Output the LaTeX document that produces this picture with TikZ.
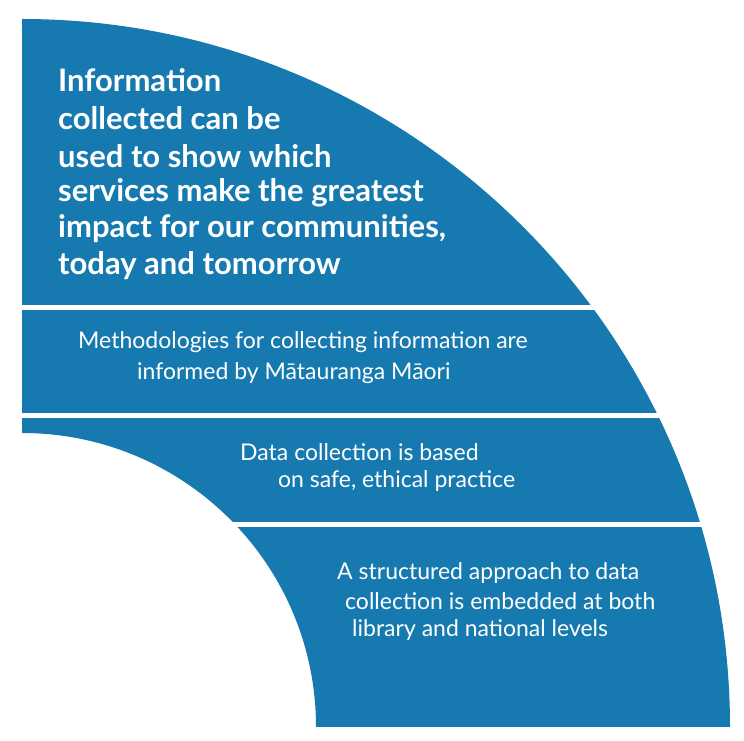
\documentclass[tikz,border=0pt]{standalone}
\usepackage{fontspec}
\setmainfont{Lato}
\begin{document}
\begin{tikzpicture}[x=1pt,y=1pt,
  title/.style={anchor=west,text=white,font=\fontsize{31}{36}\selectfont\bfseries,inner sep=0},
  body/.style={anchor=west,text=white,font=\fontsize{23}{28}\selectfont,inner sep=0}]
\definecolor{band}{RGB}{22,122,176}
\useasboundingbox (0,0) rectangle (744,741);
\fill[band] (22,722) arc[start angle=90,end angle=0,radius=708] -- (316,14)
  arc[start angle=0,end angle=90,radius=294] -- cycle;
\foreach \yy in {433,325,216} \draw[white,line width=5pt] (0,\yy) -- (744,\yy);
\node[title] (t1) at (58,661) {Information};
\node[title] (t2) at (58,623) {collected can be};
\node[title] (t3) at (58,585) {used to show which};
\node[title] (t4) at (58,548) {services make the greatest};
\node[title] (t5) at (58,512) {impact for our communities,};
\node[title] (t6) at (58,475) {today and tomorrow};
\node[body] (a1) at (78,399) {Methodologies for collecting information are};
\node[body] (a2) at (137,368) {informed by Mātauranga Māori};
\node[body] (b1) at (240,289) {Data collection is based};
\node[body] (b2) at (278,260) {on safe, ethical practice};
\node[body] (c1) at (337,168) {A structured approach to data};
\node[body] (c2) at (345,140) {collection is embedded at both};
\node[body] (c3) at (352,111) {library and national levels};
\end{tikzpicture}
\end{document}
